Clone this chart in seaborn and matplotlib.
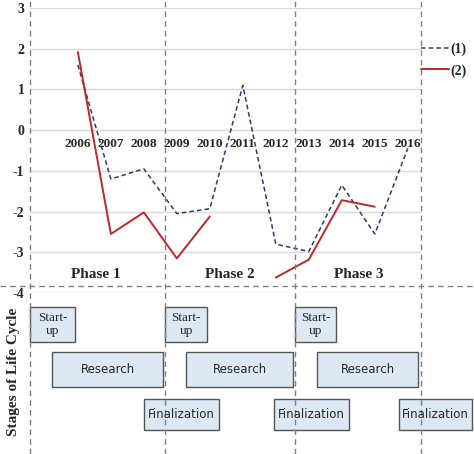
import numpy as np
import matplotlib.pyplot as plt
import seaborn as sns
from matplotlib.patches import Rectangle
from matplotlib.lines import Line2D

sns.set_theme(style="white")
plt.rcParams['font.family'] = ['Liberation Serif', 'DejaVu Serif']

years = ["2006", "2007", "2008", "2009", "2010", "2011", "2012", "2013", "2014", "2015", "2016"]
series1 = [1.6, -1.2, -0.95, -2.05, -1.93, 1.1, -2.8, -2.98, -1.35, -2.55, -0.45]
series2 = [1.92, -2.55, -2.02, -3.15, -2.12, np.nan, -3.62, -3.18, -1.72, -1.88, np.nan]
phases = ["Phase 1", "Phase 2", "Phase 3"]
stages = ["Start-\nup", "Research", "Finalization"]

W, H = 474, 454
fig = plt.figure(figsize=(W / 100, H / 100), dpi=100)
ax = fig.add_axes([30 / W, 1 - 293 / H, 391 / W, 285 / H])

x = np.arange(len(years))
sns.lineplot(x=x, y=series1, ax=ax, color="#2e3a6e", lw=1.1, linestyle=(0, (3, 2)), legend=False)
# series 2 has gaps: plain matplotlib so NaN breaks the line
ax.plot(x, series2, color="#c0272d", lw=1.4)

ax.set_xlim(-1.45, 10.4)
ax.set_ylim(-4, 3)
ax.set_yticks(range(-4, 4))
ax.set_yticklabels([str(v) for v in range(-4, 4)], fontweight="bold", fontsize=10)
ax.set_xticks([])
ax.tick_params(axis="y", length=0, pad=4)
ax.yaxis.grid(True, color="#d9d9d9", lw=1)
for s in ax.spines.values():
    s.set_visible(False)

for i, yr in enumerate(years):
    ax.text(i, -0.35, yr, ha="center", va="center", fontsize=9.5, fontweight="bold")
for xp, ph in zip([0.55, 4.6, 8.5], phases):
    ax.text(xp, -3.55, ph, ha="center", va="center", fontsize=11, fontweight="bold")

ax.legend(handles=[Line2D([], [], color="#2e3a6e", lw=1.1, linestyle=(0, (3, 2))),
                   Line2D([], [], color="#c0272d", lw=1.4)],
          labels=["(1)", "(2)"], loc="upper left", bbox_to_anchor=(1.0, 0.88),
          borderaxespad=0, borderpad=0, frameon=False, handlelength=2.0,
          handletextpad=0.15, labelspacing=0.6, prop={"weight": "bold", "size": 10})

# phase separators and horizontal divider in figure coordinates
for xp in [30, 165, 295, 421]:
    fig.add_artist(Line2D([xp / W, xp / W], [0, 1], color="#808080", lw=1, linestyle=(0, (4, 3))))
fig.add_artist(Line2D([0, 1], [1 - 286 / H, 1 - 286 / H], color="#808080", lw=1, linestyle=(0, (4, 3))))

boxes = [
    (30, 307, 75, 342, 0), (52, 352, 163, 387, 1), (144, 399, 219, 430, 2),
    (165, 307, 207, 342, 0), (186, 352, 293, 387, 1), (274, 399, 349, 430, 2),
    (295, 307, 336, 342, 0), (317, 352, 418, 387, 1), (399, 399, 472, 430, 2),
]
for x0, y0, x1, y1, k in boxes:
    fig.add_artist(Rectangle((x0 / W, 1 - y1 / H), (x1 - x0) / W, (y1 - y0) / H,
                             facecolor="#dce9f5", edgecolor="#555555", lw=1))
    fig.text((x0 + x1) / 2 / W, 1 - (y0 + y1) / 2 / H, stages[k], ha="center", va="center",
             fontsize=8.5 if k else 9.5, family=["DejaVu Sans"] if k else ["Liberation Serif"],
             linespacing=1.1)

fig.text(14 / W, 1 - 372 / H, "Stages of Life Cycle", rotation=90, ha="center", va="center",
         fontsize=11, fontweight="bold")

fig.savefig("out.png", dpi=100)
